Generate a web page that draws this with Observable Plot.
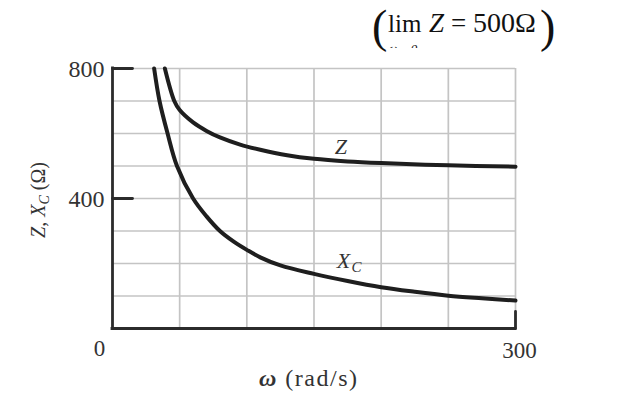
<!DOCTYPE html>
<html><head><meta charset="utf-8">
<script src="https://cdn.jsdelivr.net/npm/d3@7"></script>
<script src="https://cdn.jsdelivr.net/npm/@observablehq/plot@0.6"></script>
<style>body{margin:0;background:#fff;} #chart svg{display:block;}</style>
</head><body><div id="chart"></div>
<script>
// Data
const omegaXc = [31, 35, 41, 48, 60, 70, 80, 90, 100, 110, 125, 150, 175, 200, 225, 250, 275, 300];
const valuesXc = [800, 700, 600, 500, 400, 345, 300, 268, 242, 219, 194, 168, 146, 127, 113, 101, 93, 86];
const omegaZ = [39, 46, 50, 60, 70, 80, 95, 110, 130, 150, 175, 200, 250, 300];
const valuesZ = [800, 700, 672, 634, 608, 588, 566, 550, 533, 522, 514, 509, 502, 498];
const yTickValues = [800, 400];
const xTickLabels = [0, 300];
const xGridValues = [50, 100, 150, 200, 250, 300];
const yGridValues = [100, 200, 300, 400, 500, 600, 700, 800];
const curveLabelZ = {omega: 170, value: 560, text: "Z"};
const curveLabelXc = {omega: 172, value: 209, text: "X", sub: "C"};

const xcData = omegaXc.map((w, i) => ({omega: w, value: valuesXc[i]}));
const zData = omegaZ.map((w, i) => ({omega: w, value: valuesZ[i]}));

const serif = "Liberation Serif, Times New Roman, serif";
const tickShape = {draw(ctx, l) { ctx.moveTo(0, 0); ctx.lineTo(0, -l); }};

const plot = Plot.plot({
  width: 644, height: 412,
  marginLeft: 112, marginRight: 129, marginTop: 68, marginBottom: 84,
  x: {domain: [0, 300], axis: null},
  y: {domain: [0, 800], axis: null},
  style: {fontFamily: serif, background: "#fff"},
  marks: [
    Plot.ruleX(xGridValues, {stroke: "#c4c4c4", strokeWidth: 1.7}),
    Plot.ruleY(yGridValues, {stroke: "#c4c4c4", strokeWidth: 1.7}),
    Plot.ruleX([0], {stroke: "#2b2b2b", strokeWidth: 2.8, strokeLinecap: "square"}),
    Plot.ruleY([0], {stroke: "#2b2b2b", strokeWidth: 2.8, strokeLinecap: "square"}),
    Plot.vector(yTickValues, {x: 0, y: d => d, length: 20, rotate: 90, anchor: "start", shape: tickShape, stroke: "#2b2b2b", strokeWidth: 2.8}),
    Plot.vector([300], {x: d => d, y: 0, length: 17, rotate: 0, anchor: "start", shape: tickShape, stroke: "#2b2b2b", strokeWidth: 2.8}),
    Plot.line(zData, {x: "omega", y: "value", curve: "catmull-rom", stroke: "#1e1e1e", strokeWidth: 4}),
    Plot.line(xcData, {x: "omega", y: "value", curve: "catmull-rom", stroke: "#1e1e1e", strokeWidth: 4}),
    Plot.text(yTickValues, {x: 0, y: d => d, text: d => String(d), textAnchor: "end", dx: -8, dy: 1, fontSize: 24, fill: "#333"}),
    Plot.text(xTickLabels.slice(0, 1), {x: d => d, y: 0, text: d => String(d), dx: -13, dy: 20, fontSize: 23, fill: "#333"}),
    Plot.text(xTickLabels.slice(1), {x: d => d, y: 0, text: d => String(d), dx: 4, dy: 22, fontSize: 23, fill: "#333"}),
    Plot.text([curveLabelZ], {x: "omega", y: "value", text: "text", fontSize: 22, fontStyle: "italic", fill: "#333"}),
    Plot.text([curveLabelXc], {x: "omega", y: "value", text: "text", fontSize: 22, fontStyle: "italic", fill: "#333"}),
    Plot.text([curveLabelXc], {x: "omega", y: "value", text: "sub", dx: 13, dy: 7, fontSize: 15, fontStyle: "italic", fill: "#333"})
  ]
});

const svg = d3.select(plot);
// x-axis label
const xl = svg.append("text").attr("x", 259).attr("y", 386).attr("text-anchor", "start")
  .attr("font-family", serif).attr("font-size", 24).attr("fill", "#333");
xl.append("tspan").attr("font-weight", "bold").attr("font-style", "italic").text("ω");
xl.append("tspan").attr("dx", 9).attr("letter-spacing", 1.5).text("(rad/s)");
// y-axis label
const yl = svg.append("text").attr("transform", "translate(45,200) rotate(-90)")
  .attr("text-anchor", "middle").attr("font-family", serif).attr("font-size", 20).attr("fill", "#333");
yl.append("tspan").attr("font-style", "italic").text("Z");
yl.append("tspan").text(", ");
yl.append("tspan").attr("font-style", "italic").text("X");
yl.append("tspan").attr("font-style", "italic").attr("font-size", 14).attr("dy", 4).text("C");
yl.append("tspan").attr("dy", -4).text(" (Ω)");
// title (its subscript is cut by the picture's edge in the reference)
svg.append("defs").append("clipPath").attr("id", "tclip")
  .append("rect").attr("x", 0).attr("y", 0).attr("width", 644).attr("height", 48);
const tg = svg.append("g").attr("font-family", serif).attr("fill", "#111").attr("text-anchor", "start");
tg.append("text").attr("x", 372).attr("y", 42).attr("font-size", 46).text("(");
tg.append("text").attr("x", 388).attr("y", 32).attr("font-size", 25).text("lim");
tg.append("text").attr("x", 403).attr("y", 53).attr("font-size", 13).attr("text-anchor", "middle")
  .attr("font-style", "italic").attr("clip-path", "url(#tclip)").text("ω→0");
tg.append("text").attr("x", 429).attr("y", 32).attr("font-size", 27).attr("font-style", "italic").text("Z");
tg.append("text").attr("x", 451).attr("y", 32).attr("font-size", 27).text("=");
tg.append("text").attr("x", 473).attr("y", 32).attr("font-size", 28).text("500Ω");
tg.append("text").attr("x", 540).attr("y", 42).attr("font-size", 46).text(")");

document.getElementById("chart").appendChild(plot);
</script>
</body></html>
